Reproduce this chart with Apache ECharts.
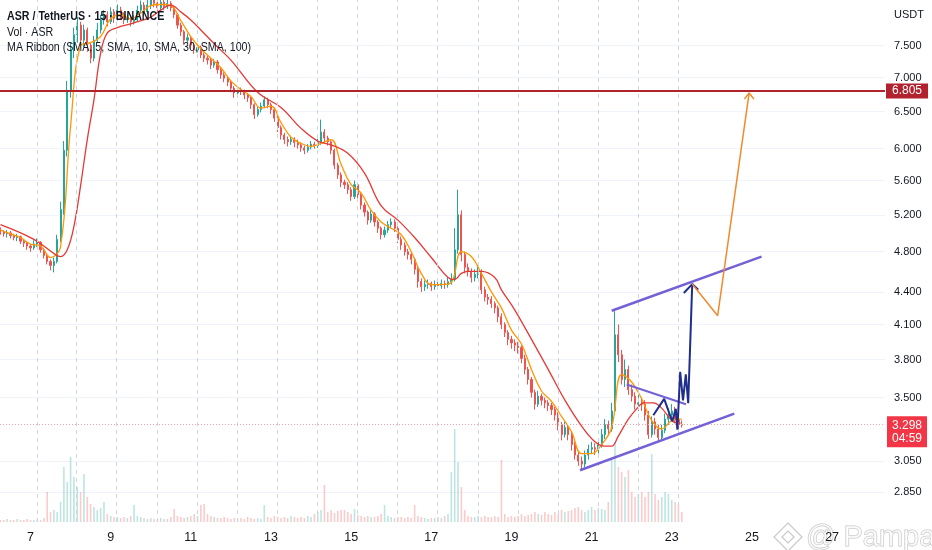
<!DOCTYPE html>
<html>
<head>
<meta charset="utf-8">
<script src="https://cdn.jsdelivr.net/npm/echarts@6/dist/echarts.min.js"></script>
<style>html,body{margin:0;padding:0;background:#fff}#c{width:932px;height:550px}</style>
</head>
<body>
<div id="c"></div>
<script>
// ---- data (2-hour candles) ----
const startDay = 6.25;          // day-of-month of first candle
const barDays = 1 / 12;         // 2 hours
// [open, close, low, high]
const ohlc = [
[5.04,5.01,4.98,5.06],[5.01,4.99,4.96,5.03],[4.99,5.00,4.95,5.03],[5.00,4.97,4.94,5.02],[4.97,4.95,4.92,4.99],
[4.95,4.96,4.91,4.99],[4.96,4.91,4.88,4.97],[4.91,4.89,4.85,4.93],[4.89,4.86,4.82,4.91],[4.86,4.84,4.80,4.88],
[4.84,4.88,4.82,4.92],[4.88,4.90,4.85,4.94],[4.90,4.82,4.79,4.91],[4.82,4.76,4.73,4.84],[4.76,4.70,4.67,4.78],
[4.70,4.66,4.61,4.72],[4.66,4.70,4.59,4.74],[4.70,4.93,4.68,4.98],[4.93,5.26,4.90,5.35],[5.26,5.98,5.20,6.10],
[5.98,6.81,5.90,6.95],[6.81,7.43,6.70,7.55],[7.43,7.68,7.30,7.80],[7.68,7.84,7.55,7.98],[7.84,7.59,7.50,7.90],
[7.59,7.76,7.48,7.85],[7.76,7.51,7.40,7.80],[7.51,7.30,7.22,7.56],[7.30,7.59,7.25,7.66],[7.59,7.76,7.55,7.88],
[7.76,7.93,7.70,8.02],[7.93,8.02,7.85,8.10],[8.02,7.90,7.82,8.08],[7.90,8.07,7.86,8.15],[8.07,7.96,7.88,8.12],
[7.96,8.10,7.92,8.20],[8.10,8.02,7.95,8.16],[8.02,7.93,7.86,8.06],[7.93,7.96,7.88,8.03],[7.96,7.90,7.82,8.00],
[7.90,7.93,7.85,8.01],[7.93,8.10,7.90,8.18],[8.10,8.19,8.04,8.27],[8.19,8.07,8.00,8.24],[8.07,8.19,8.03,8.28],
[8.19,8.28,8.12,8.36],[8.28,8.22,8.15,8.34],[8.22,8.14,8.08,8.27],[8.14,8.24,8.10,8.32],[8.24,8.16,8.10,8.29],
[8.16,8.22,8.12,8.33],[8.22,8.14,8.08,8.26],[8.14,8.02,7.96,8.17],[8.02,7.84,7.78,8.05],[7.84,7.73,7.66,7.88],
[7.73,7.59,7.52,7.76],[7.59,7.63,7.54,7.70],[7.63,7.51,7.45,7.66],[7.51,7.43,7.37,7.55],[7.43,7.47,7.39,7.53],
[7.47,7.35,7.30,7.50],[7.35,7.30,7.24,7.39],[7.30,7.27,7.20,7.34],[7.27,7.19,7.13,7.30],[7.19,7.24,7.15,7.29],
[7.24,7.12,7.06,7.27],[7.12,7.04,6.98,7.15],[7.04,6.99,6.93,7.08],[6.99,6.93,6.87,7.02],[6.93,6.84,6.78,6.96],
[6.84,6.77,6.70,6.87],[6.77,6.81,6.72,6.86],[6.81,6.79,6.74,6.85],[6.79,6.74,6.68,6.82],[6.74,6.70,6.64,6.77],
[6.70,6.60,6.54,6.72],[6.60,6.46,6.40,6.62],[6.46,6.53,6.43,6.57],[6.53,6.58,6.49,6.63],[6.58,6.67,6.55,6.72],
[6.67,6.60,6.55,6.70],[6.60,6.53,6.47,6.63],[6.53,6.41,6.36,6.56],[6.41,6.28,6.22,6.44],[6.28,6.18,6.12,6.31],
[6.18,6.12,6.06,6.21],[6.12,6.09,6.03,6.16],[6.09,6.12,6.05,6.17],[6.12,6.08,6.02,6.15],[6.08,6.05,6.00,6.12],
[6.05,6.01,5.96,6.08],[6.01,5.98,5.93,6.04],[5.98,6.02,5.95,6.06],[6.02,6.06,5.99,6.10],[6.06,6.04,6.00,6.09],
[6.04,6.08,6.01,6.13],[6.08,6.22,6.05,6.39],[6.22,6.14,6.08,6.26],[6.14,6.09,6.04,6.17],[6.09,5.98,5.93,6.11],
[5.98,5.79,5.74,6.00],[5.79,5.67,5.62,5.82],[5.67,5.58,5.52,5.70],[5.58,5.55,5.50,5.61],[5.55,5.49,5.44,5.58],
[5.49,5.41,5.36,5.52],[5.41,5.55,5.38,5.60],[5.55,5.43,5.39,5.57],[5.43,5.31,5.26,5.45],[5.31,5.23,5.18,5.34],
[5.23,5.14,5.09,5.25],[5.14,5.21,5.11,5.25],[5.21,5.12,5.07,5.23],[5.12,5.05,5.00,5.14],[5.05,4.98,4.93,5.07],
[4.98,5.03,4.95,5.07],[5.03,5.09,5.00,5.13],[5.09,5.12,5.05,5.16],[5.12,5.05,5.01,5.15],[5.05,4.93,4.89,5.07],
[4.93,4.87,4.82,4.96],[4.87,4.80,4.76,4.90],[4.80,4.77,4.72,4.83],[4.77,4.72,4.67,4.79],[4.72,4.62,4.57,4.74],
[4.62,4.50,4.44,4.64],[4.50,4.45,4.40,4.53],[4.45,4.47,4.41,4.51],[4.47,4.48,4.43,4.52],[4.48,4.45,4.41,4.50],
[4.45,4.47,4.42,4.51],[4.47,4.46,4.42,4.50],[4.46,4.48,4.43,4.52],[4.48,4.47,4.43,4.51],[4.47,4.50,4.44,4.54],
[4.50,4.52,4.47,4.58],[4.52,4.82,4.50,5.05],[4.82,5.20,4.78,5.49],[5.20,4.77,4.70,5.25],[4.77,4.64,4.58,4.80],
[4.64,4.60,4.55,4.68],[4.60,4.54,4.49,4.63],[4.54,4.57,4.50,4.62],[4.57,4.60,4.53,4.66],[4.60,4.42,4.38,4.62],
[4.42,4.35,4.31,4.45],[4.35,4.33,4.28,4.38],[4.33,4.29,4.25,4.36],[4.29,4.25,4.20,4.31],[4.25,4.17,4.12,4.27],
[4.17,4.10,4.06,4.20],[4.10,4.03,3.99,4.12],[4.03,3.97,3.92,4.05],[3.97,3.94,3.89,4.00],[3.94,3.92,3.87,3.97],
[3.92,3.90,3.85,3.95],[3.90,3.81,3.77,3.92],[3.81,3.72,3.68,3.84],[3.72,3.64,3.60,3.74],[3.64,3.54,3.50,3.66],
[3.54,3.45,3.41,3.56],[3.45,3.51,3.43,3.55],[3.51,3.48,3.44,3.53],[3.48,3.46,3.42,3.50],[3.46,3.44,3.40,3.48],
[3.44,3.41,3.37,3.46],[3.41,3.37,3.33,3.43],[3.37,3.30,3.26,3.39],[3.30,3.23,3.19,3.32],[3.23,3.28,3.21,3.32],
[3.28,3.23,3.19,3.30],[3.23,3.16,3.12,3.25],[3.16,3.09,3.06,3.18],[3.09,3.05,3.02,3.11],[3.05,3.03,2.99,3.08],
[3.03,3.09,3.01,3.12],[3.09,3.13,3.06,3.16],[3.13,3.14,3.10,3.18],[3.14,3.13,3.09,3.17],[3.13,3.16,3.10,3.20],
[3.16,3.23,3.14,3.27],[3.23,3.30,3.20,3.34],[3.30,3.27,3.22,3.33],[3.27,3.40,3.25,3.46],[3.40,4.01,3.38,4.22],
[4.01,3.84,3.78,4.10],[3.84,3.64,3.60,3.88],[3.64,3.72,3.58,3.80],[3.72,3.56,3.52,3.75],[3.56,3.51,3.47,3.60],
[3.51,3.45,3.41,3.54],[3.45,3.46,3.40,3.52],[3.46,3.45,3.40,3.50],[3.45,3.37,3.33,3.48],[3.37,3.23,3.20,3.40],
[3.23,3.32,3.21,3.36],[3.32,3.27,3.23,3.35],[3.27,3.21,3.18,3.30],[3.21,3.26,3.19,3.30],[3.26,3.34,3.24,3.38],
[3.34,3.37,3.30,3.42],[3.37,3.40,3.33,3.45],[3.40,3.34,3.31,3.43],[3.34,3.30,3.27,3.37],[3.30,3.298,3.28,3.33]
];
const volume = [
2,2,3,2,2,3,2,2,3,2,2,3,2,4,30,10,12,10,20,55,
40,65,45,35,30,48,25,18,15,12,14,20,8,6,5,5,4,5,4,6,
17,6,5,4,3,4,3,3,4,3,3,5,13,6,5,4,5,6,8,6,
17,18,8,6,5,4,4,5,4,3,4,3,4,3,5,4,3,4,3,17,
5,4,6,5,4,5,4,6,5,4,5,4,6,5,8,10,12,37,10,12,
9,11,12,12,10,8,13,7,6,5,6,5,5,6,8,17,6,5,4,5,
5,4,5,4,17,6,5,4,3,4,4,5,4,6,8,50,93,60,35,12,
6,5,5,6,5,6,5,5,6,5,62,8,5,6,5,6,8,6,7,8,
10,8,7,10,8,7,10,8,12,10,11,12,14,15,12,10,12,15,12,14,
13,12,20,65,80,55,50,45,52,30,25,28,30,25,30,68,28,22,25,30,
28,22,20,18,10
];
// SMA 100 (red), read at candle positions
const maSlowIdx = [0,10,16.5,18,20,22,24,26,28,30,32,35,40,45,48,51,54,57,60,64.4,69,77,84,90,95,99,104,109,114,119,124,129,134,136,138,140,144,148,150,154,159,164,169,174,178,181,183,185,188,191,192.5,195.5,197.6,200,201.5,203.6];
const maSlowVal = [5.09,4.93,4.77,4.75,4.82,5.07,5.54,6.12,6.67,7.38,7.71,7.80,7.88,7.98,8.10,8.19,8.07,7.93,7.76,7.51,7.27,6.78,6.56,6.27,6.10,6.05,5.94,5.69,5.30,5.14,4.95,4.74,4.54,4.52,4.58,4.60,4.60,4.54,4.42,4.23,3.97,3.72,3.48,3.29,3.18,3.15,3.15,3.22,3.34,3.43,3.46,3.46,3.43,3.36,3.32,3.31];
// SMA 30 (orange)
const maFastIdx = [0,3,6,9,12,15,18,21,24,27,30,33,36,39,42,45,48,51,54,57,60,63,66,69,72,75,78,81,84,87,90,93,96,99,102,105,108,111,114,117,120,123,126,129,132,135,138,141,144,147,150,153,156,159,162,165,168,171,174,177,180,183,186,189,192,195,198,201,204];
const maFastVal = [5.03,4.99,4.95,4.88,4.86,4.74,4.85,6.30,7.50,7.55,7.65,7.95,8.02,7.95,8.05,8.18,8.20,8.18,7.92,7.65,7.45,7.30,7.15,6.95,6.82,6.72,6.55,6.58,6.35,6.15,6.07,6.03,6.07,6.12,5.80,5.55,5.45,5.25,5.12,5.05,4.98,4.80,4.58,4.47,4.47,4.49,4.80,4.75,4.58,4.40,4.25,4.05,3.93,3.72,3.55,3.47,3.36,3.25,3.10,3.10,3.16,3.28,3.68,3.62,3.49,3.33,3.27,3.33,3.34];
// axis ticks
const priceTicks = [2.85,3.05,3.5,3.8,4.1,4.4,4.8,5.2,5.6,6.0,6.5,7.0,7.5];
const dayTicks = [7,9,11,13,15,17,19,21,23,25,27];
const sessionDays = [7,8,9,10,11,12,13,14,15,16,17,18,19,20,21,22,23];
// levels
const resistanceLevel = 6.805;
const lastPrice = 3.298;
// drawings [day, price]
const channelUpper = [[21.50,4.224],[25.24,4.75]];
const channelLower = [[20.71,2.99],[24.56,3.38]];
const flagTop = [[21.875,3.60],[23.355,3.45]];
const bluePath = [[22.54,3.368],[22.81,3.49],[23.01,3.325],[23.10,3.415],[23.14,3.265],[23.21,3.70],[23.28,3.479],[23.35,3.68],[23.41,3.457],[23.51,4.475]];
const blueHead = [[23.30,4.39],[23.51,4.475],[23.66,4.42]];
const orangePath = [[23.51,4.475],[24.145,4.179],[24.93,6.77]];
const orangeHead = [[24.81,6.68],[24.93,6.77],[25.05,6.68]];

// ---- chart ----
const FONT = '"Liberation Sans",Arial,sans-serif';
const dayOf = i => startDay + i * barDays;
const candleData = ohlc.map((r, i) => [dayOf(i), r[0], r[1], r[2], r[3]]);
const volData = volume.map((v, i) => ({
  value: [dayOf(i), v],
  itemStyle: { color: ohlc[i][1] >= ohlc[i][0] ? 'rgba(38,166,154,0.3)' : 'rgba(239,83,80,0.3)' }
}));
const slowData = maSlowIdx.map((i, k) => [dayOf(i), maSlowVal[k]]);
const fastData = maFastIdx.map((i, k) => [dayOf(i), maFastVal[k]]);

function drawLine(data, color, width, z) {
  return { type: 'line', data: data, showSymbol: false, silent: true, z: z || 5,
    lineStyle: { color: color, width: width }, xAxisIndex: 0, yAxisIndex: 0 };
}
function legendText(txt, y, bold) {
  return { type: 'text', x: 7, y: y, scaleX: 0.82, z: 100,
    style: { text: txt, font: (bold ? 'bold ' : '') + '13px ' + FONT, fill: '#131722', verticalAlign: 'middle' } };
}

const chart = echarts.init(document.getElementById('c'), null, { renderer: 'canvas' });
chart.setOption({
  animation: false,
  backgroundColor: '#ffffff',
  grid: { left: 0, right: 47, top: 0, bottom: 28 },
  xAxis: [{
    type: 'value', min: 6.239, max: 28.32,
    axisLine: { show: false }, axisTick: { show: false }, splitLine: { show: false },
    axisLabel: { customValues: dayTicks, formatter: v => String(Math.round(v)), color: '#131722', fontSize: 12.5, margin: 9, fontFamily: FONT }
  }],
  yAxis: [{
    type: 'log', logBase: 10, min: 2.673, max: 8.28, position: 'right',
    axisLine: { show: false },
    axisTick: { show: false, customValues: priceTicks },
    axisLabel: { customValues: priceTicks, formatter: v => v.toFixed(3), color: '#131722', fontSize: 11, margin: 9, fontFamily: FONT },
    splitLine: { show: true, lineStyle: { color: '#f0f3fa', width: 1 } }
  }, {
    type: 'value', min: 0, max: 522, show: false, splitLine: { show: false }
  }],
  graphic: [
    legendText('ASR / TetherUS · 15 · BINANCE', 16, true),
    legendText('Vol · ASR', 32, false),
    legendText('MA Ribbon (SMA, 5, SMA, 10, SMA, 30, SMA, 100)', 47.5, false),
    { type: 'text', x: 909, y: 15, style: { text: 'USDT', font: '11px ' + FONT, fill: '#131722', align: 'center', verticalAlign: 'middle' } },
    { type: 'polygon', shape: { points: [[788, 523], [802, 537], [788, 551], [774, 537]] }, style: { fill: 'none', stroke: '#c9c9c9', lineWidth: 1.2 } },
    { type: 'polygon', shape: { points: [[788, 531], [794, 537], [788, 543], [782, 537]] }, style: { fill: 'none', stroke: '#c9c9c9', lineWidth: 1.2 } },
    { type: 'text', x: 806, y: 538, style: { text: '@ Pampa1', font: '29px "Liberation Sans",Arial,sans-serif', fill: 'rgba(255,255,255,0.6)', stroke: '#c4c4c4', lineWidth: 1, verticalAlign: 'middle' } }
  ],
  series: [
    {
      type: 'bar', name: 'Vol', xAxisIndex: 0, yAxisIndex: 1, data: volData, barWidth: 1.6, silent: true, z: 1
    },
    {
      type: 'candlestick', name: 'ASR', xAxisIndex: 0, yAxisIndex: 0, data: candleData,
      encode: { x: 0, y: [1, 2, 3, 4] }, barWidth: 1.6, z: 3,
      itemStyle: { color: '#26a69a', color0: '#ef5350', borderColor: '#26a69a', borderColor0: '#ef5350', borderWidth: 1 }
    },
    Object.assign(drawLine(fastData, '#ff9800', 1.3, 4), { smooth: 0.4 }),
    Object.assign(drawLine(slowData, '#e53935', 1.3, 4), {
      smooth: 0.4,
      markLine: {
        silent: true, symbol: 'none', animation: false,
        data: [
          ...sessionDays.map(d => ({ xAxis: d + 0.155, lineStyle: { color: '#d1d4dc', type: [4, 4], width: 1 }, label: { show: false } })),
          { yAxis: resistanceLevel, lineStyle: { color: '#b2222b', type: 'solid', width: 2 },
            label: { show: true, position: 'end', distance: 1, formatter: resistanceLevel.toFixed(3), backgroundColor: '#b2222e', color: '#fff', padding: [2, 6, 1, 6], fontSize: 12, fontFamily: FONT } },
          { yAxis: lastPrice, lineStyle: { color: '#f2a3a8', type: [1, 2], width: 1 },
            label: { show: true, position: 'end', distance: 2, offset: [0, 7], formatter: lastPrice.toFixed(3) + '\n04:59', backgroundColor: '#f23645', color: '#fff', padding: [3, 5, 2, 5], lineHeight: 13, fontSize: 12, fontFamily: FONT } }
        ]
      }
    }),
    drawLine(channelUpper, '#7461d6', 2.5, 8),
    drawLine(channelLower, '#7461d6', 2.5, 8),
    drawLine(flagTop, '#7461d6', 2, 8),
    drawLine(bluePath, '#1f2d8c', 2, 9),
    drawLine(blueHead, '#1f2d8c', 2, 9),
    drawLine(orangePath, '#f08a2c', 1.5, 9),
    drawLine(orangeHead, '#f08a2c', 1.5, 9)
  ]
});
</script>
</body>
</html>
